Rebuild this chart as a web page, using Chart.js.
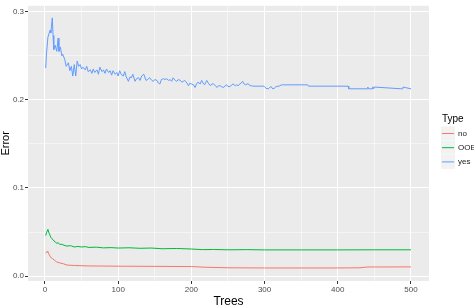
<!DOCTYPE html>
<html>
<head>
<meta charset="utf-8">
<script src="https://cdn.jsdelivr.net/npm/chart.js@4.4.1/dist/chart.umd.min.js"></script>
<style>
  body { margin: 0; background: #fff; }
  #errChart { display: block; }
</style>
</head>
<body>
<canvas id="errChart" width="474" height="305"></canvas>
<script>
// Error por número de árboles (random forest)

// Ticks de los ejes
const xTicks = [0, 100, 200, 300, 400, 500];
const yTicks = [0, 0.1, 0.2, 0.3];
const xMinor = [50, 150, 250, 350, 450];
const yMinor = [0.05, 0.15, 0.25];

// Serie "no"
const noTrees = [1, 3, 4, 6, 8, 10, 13, 16, 20, 25, 30, 40, 60, 100, 150, 200, 220, 250, 300, 400, 430, 440, 500];
const noError = [0.026, 0.028, 0.027, 0.024, 0.021, 0.020, 0.018, 0.016, 0.015, 0.014, 0.0125, 0.012, 0.0115,
                 0.0112, 0.011, 0.0108, 0.0100, 0.0094, 0.0092, 0.0092, 0.0094, 0.0103, 0.0104];

// Serie "OOB"
const oobTrees = [1, 2, 4, 5, 6, 8, 10, 12, 14, 16, 18, 20, 23, 26, 30, 35, 40, 45, 50, 55, 60, 70, 80, 90, 100, 115,
                  130, 145, 160, 180, 200, 215, 230, 250, 275, 300, 350, 400, 450, 500];
const oobError = [0.046, 0.049, 0.053, 0.050, 0.048, 0.044, 0.042, 0.040, 0.039, 0.037, 0.038, 0.036, 0.036, 0.035,
                  0.034, 0.0345, 0.033, 0.0336, 0.033, 0.0334, 0.0325, 0.0328, 0.032, 0.0323, 0.0318, 0.0321,
                  0.0315, 0.0318, 0.031, 0.0313, 0.0307, 0.0300, 0.0302, 0.0298, 0.0300, 0.0297,
                  0.0297, 0.0297, 0.0298, 0.0298];

// Serie "yes"
const yesTrees = [1, 2, 4, 7, 8, 10, 11, 12, 14, 16, 18, 19, 21, 23, 24, 27, 29, 32, 34, 36, 38, 40, 42, 44, 46, 48,
                  50, 52, 55, 57, 59, 62, 64, 66, 68, 71, 73, 75, 78, 80, 82, 84, 87, 89, 91, 93, 96, 98, 100, 102,
                  104, 107, 109, 111, 114, 116, 118, 120, 123, 125, 128, 130, 132, 135, 138, 140, 143, 146, 148, 150,
                  153, 155, 157, 159, 162, 164, 166, 169, 171, 173, 175, 178, 180, 182, 185, 187, 189, 191, 194, 196,
                  198, 200, 203, 205, 207, 209, 212, 214, 216, 218, 221, 223, 226, 228, 230, 233, 235, 237, 239, 241,
                  244, 246, 248, 250, 253, 255, 257, 260, 262, 264, 266, 268, 270, 272, 274, 276, 278, 280, 282, 284,
                  299, 300, 302, 305, 307, 309, 311, 313, 315, 318, 320, 323, 325, 359, 360, 414, 415, 440, 441, 442,
                  447, 448, 449, 450, 487, 488, 489, 500];
const yesError = [0.236, 0.252, 0.271, 0.279, 0.276, 0.293, 0.273, 0.257, 0.262, 0.255, 0.270, 0.255, 0.260, 0.250,
                  0.252, 0.246, 0.238, 0.242, 0.233, 0.238, 0.227, 0.240, 0.227, 0.244, 0.238, 0.240, 0.235, 0.237,
                  0.234, 0.238, 0.232, 0.234, 0.230, 0.235, 0.231, 0.234, 0.229, 0.237, 0.232, 0.234, 0.230, 0.235,
                  0.231, 0.233, 0.228, 0.233, 0.229, 0.231, 0.227, 0.233, 0.229, 0.227, 0.232, 0.226, 0.221, 0.226,
                  0.225, 0.229, 0.221, 0.224, 0.225, 0.222, 0.227, 0.229, 0.222, 0.223, 0.225, 0.222, 0.221, 0.223,
                  0.222, 0.219, 0.218, 0.223, 0.224, 0.223, 0.224, 0.222, 0.223, 0.221, 0.225, 0.222, 0.221, 0.223,
                  0.222, 0.220, 0.221, 0.222, 0.219, 0.216, 0.219, 0.218, 0.217, 0.214, 0.218, 0.220, 0.218, 0.222,
                  0.219, 0.217, 0.222, 0.219, 0.216, 0.218, 0.218, 0.216, 0.214, 0.216, 0.216, 0.215, 0.214, 0.216,
                  0.217, 0.215, 0.215, 0.217, 0.218, 0.216, 0.217, 0.216, 0.218, 0.219, 0.221, 0.218, 0.217, 0.218,
                  0.218, 0.216, 0.216, 0.2155, 0.2155, 0.215, 0.213, 0.2125, 0.214, 0.215, 0.2125, 0.213, 0.2145,
                  0.2155, 0.2155, 0.217, 0.217, 0.217, 0.2155, 0.2155, 0.2125, 0.2125, 0.2145, 0.2125, 0.2125,
                  0.2148, 0.2125, 0.2145, 0.2125, 0.2125, 0.2145, 0.2125, 0.2125];

const typeLabels = ['no', 'OOB', 'yes'];
const typeColors = ['#F8766D', '#00BA38', '#619CFF'];

function toPoints(xs, ys) {
    return xs.map((x, i) => ({ x: x, y: ys[i] }));
}

const fontName = '"Liberation Sans", Arial, sans-serif';

// Fondo gris del panel (estilo ggplot)
const panelBg = {
    id: 'panelBg',
    beforeDraw(chart) {
        const { ctx, chartArea: a } = chart;
        ctx.save();
        ctx.fillStyle = '#EBEBEB';
        ctx.fillRect(a.left, a.top, a.right - a.left, a.bottom - a.top);
        ctx.restore();
    }
};

// Leyenda a la derecha con título "Type"
const typeLegend = {
    id: 'typeLegend',
    afterDraw(chart) {
        const ctx = chart.ctx;
        ctx.save();
        ctx.textBaseline = 'middle';
        ctx.textAlign = 'left';
        ctx.fillStyle = '#000';
        ctx.font = '10px ' + fontName;
        ctx.fillText('Type', 442, 119);
        ctx.font = '8px ' + fontName;
        chart.data.datasets.forEach((ds, i) => {
            const cy = 133.5 + i * 14.2;
            ctx.fillStyle = '#F2F2F2';
            ctx.fillRect(441, cy - 7, 14, 14);
            ctx.strokeStyle = ds.borderColor;
            ctx.lineWidth = 1;
            ctx.beginPath();
            ctx.moveTo(442, cy);
            ctx.lineTo(454, cy);
            ctx.stroke();
            ctx.fillStyle = '#1A1A1A';
            ctx.fillText(ds.label, 458, cy);
        });
        ctx.restore();
    }
};

const isMajorX = v => xTicks.includes(v);
const isMajorY = v => yTicks.some(t => Math.abs(t - v) < 1e-9);

new Chart(document.getElementById('errChart').getContext('2d'), {
    type: 'line',
    data: {
        datasets: [
            { label: typeLabels[0], data: toPoints(noTrees, noError), borderColor: typeColors[0] },
            { label: typeLabels[1], data: toPoints(oobTrees, oobError), borderColor: typeColors[1] },
            { label: typeLabels[2], data: toPoints(yesTrees, yesError), borderColor: typeColors[2] }
        ]
    },
    options: {
        responsive: false,
        animation: false,
        devicePixelRatio: 1,
        layout: { padding: { left: 0, right: 45, top: 0, bottom: 0 } },
        elements: {
            point: { radius: 0 },
            line: { borderWidth: 1, tension: 0 }
        },
        plugins: {
            legend: { display: false },
            tooltip: { enabled: false }
        },
        scales: {
            x: {
                type: 'linear',
                min: -23.2,
                max: 524.6,
                afterBuildTicks: s => {
                    s.ticks = xTicks.concat(xMinor).sort((a, b) => a - b).map(v => ({ value: v }));
                },
                afterFit: s => { s.height = 24; },
                border: { display: false },
                grid: {
                    color: '#FFFFFF',
                    lineWidth: c => isMajorX(c.tick.value) ? 1 : 0.5,
                    tickColor: c => isMajorX(c.tick.value) ? '#333333' : 'rgba(0,0,0,0)',
                    tickLength: 3,
                    tickWidth: 1
                },
                ticks: {
                    autoSkip: false,
                    maxRotation: 0,
                    padding: 1,
                    color: '#4D4D4D',
                    font: { family: fontName, size: 8 },
                    callback: v => isMajorX(v) ? String(v) : ''
                },
                title: {
                    display: true,
                    text: 'Trees',
                    color: '#000',
                    font: { family: fontName, size: 12 },
                    padding: { top: 0, bottom: -4 }
                }
            },
            y: {
                type: 'linear',
                min: -0.0056,
                max: 0.3067,
                afterBuildTicks: s => {
                    s.ticks = yTicks.concat(yMinor).sort((a, b) => a - b).map(v => ({ value: v }));
                },
                afterFit: s => { s.width = 28; },
                border: { display: false },
                grid: {
                    color: '#FFFFFF',
                    lineWidth: c => isMajorY(c.tick.value) ? 1 : 0.5,
                    tickColor: c => isMajorY(c.tick.value) ? '#333333' : 'rgba(0,0,0,0)',
                    tickLength: 3,
                    tickWidth: 1
                },
                ticks: {
                    autoSkip: false,
                    padding: 1,
                    color: '#4D4D4D',
                    font: { family: fontName, size: 8 },
                    callback: v => isMajorY(v) ? v.toFixed(1) : ''
                },
                title: {
                    display: true,
                    text: 'Error',
                    color: '#000',
                    font: { family: fontName, size: 11 },
                    padding: { top: -1, bottom: 0 }
                }
            }
        }
    },
    plugins: [panelBg, typeLegend]
});
</script>
</body>
</html>
